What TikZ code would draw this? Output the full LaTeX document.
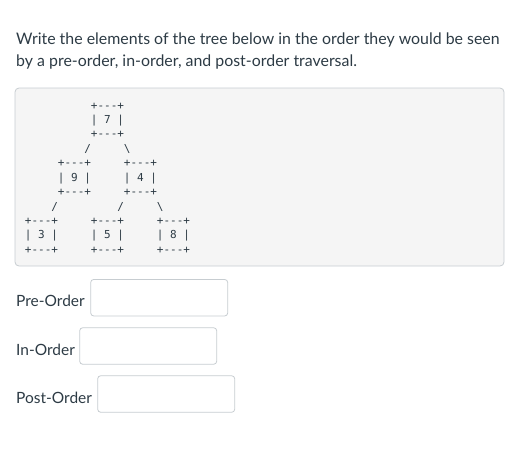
\documentclass[tikz,border=0pt]{standalone}
\usepackage{fontspec}
\setmainfont{Lato}
\newfontfamily\asciimono{DejaVu Sans Mono}
\definecolor{inktext}{HTML}{2D3B45}
\definecolor{panelfill}{HTML}{F5F5F5}
\definecolor{panelline}{HTML}{C7CDD1}
\newcommand{\asciiedge}{+-{}-{}-+}

\tikzset{
  prose/.style={anchor=base west, inner sep=0pt, text=inktext, font=\fontsize{15.5}{20}\selectfont},
  ascii/.style={anchor=base west, inner sep=0pt, text=inktext, font=\asciimono\fontsize{11}{14}\selectfont},
  answerbox/.style={rectangle, draw=panelline, fill=white, rounded corners=3pt, line width=0.8pt, minimum width=137pt, minimum height=36.5pt, anchor=west, inner sep=0pt},
}

\begin{document}
\begin{tikzpicture}[x=1pt, y=-1pt]
    \useasboundingbox (0,0) rectangle (518,456);

    % Question text
    \node[prose, font=\fontsize{15.9}{20}\selectfont] (ask1) at (16,44.5) {Write the elements of the tree below in the order they would be seen};
    \node[prose, font=\fontsize{15.9}{20}\selectfont] (ask2) at (16,66) {by a pre-order, in-order, and post-order traversal.};

    % Grey panel
    \draw[panelline, fill=panelfill, rounded corners=4pt, line width=0.8pt] (15,88) rectangle (504,266);

    % Tree nodes (ascii boxes)
    \foreach \val/\col/\row in {7/10/1, 9/5/5, 4/15/5, 3/0/9, 5/10/9, 8/20/9} {
        \node[ascii] (top\val) at (24.7+6.6*\col, 109+14.43*\row-14.43) {\asciiedge};
        \node[ascii] (n\val) at (24.7+6.6*\col, 109+14.43*\row) {| \val\ |};
        \node[ascii] (bot\val) at (24.7+6.6*\col, 109+14.43*\row+14.43) {\asciiedge};
    }

    % Branches
    \foreach \from/\to/\col/\row/\glyph in {7/9/9/3/{/}, 7/4/15/3/{\textbackslash}, 9/3/4/7/{/}, 4/5/14/7/{/}, 4/8/20/7/{\textbackslash}} {
        \node[ascii] (e\from\to) at (24.7+6.6*\col, 109+14.43*\row) {\glyph};
    }

    % Answer fields
    \node[prose] (prelbl) at (16,306.7) {Pre-Order};
    \node[answerbox] (preans) at (90.3,297.7) {};
    \node[prose] (inlbl) at (16,355) {In-Order};
    \node[answerbox] (inans) at (79.3,346) {};
    \node[prose] (postlbl) at (16,403.3) {Post-Order};
    \node[answerbox] (postans) at (97.3,394) {};
\end{tikzpicture}
\end{document}
